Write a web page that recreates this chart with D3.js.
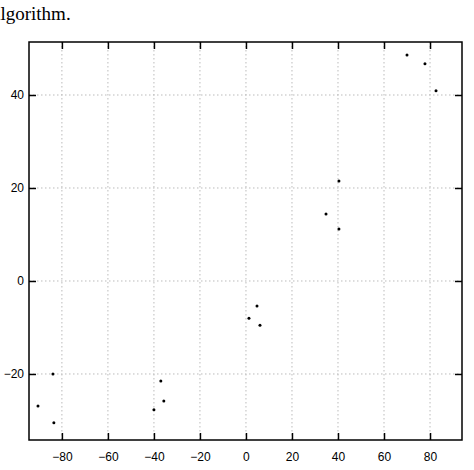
<!DOCTYPE html>
<html lang="en">
<head>
<meta charset="UTF-8">
<script src="https://d3js.org/d3.v7.min.js"></script>
<style>
  body { margin: 0; background: #fff; }
  .grid line { stroke: #bbb; stroke-dasharray: 1.5 2.5; }
  .tick text { font-family: "Liberation Sans", Arial, sans-serif; font-size: 12px; fill: #000; }
</style>
</head>
<body>
<svg id="chart" width="474" height="470"></svg>
<script>
  // Data points
  const xs = [-83.9, -90.4, -83.5, -37, -35.7, -40, 1.3, 4.8, 6.1, 34.8, 40.4, 40.4, 70, 77.8, 82.6];
  const ys = [-20, -26.9, -30.5, -21.5, -25.8, -27.7, -8, -5.4, -9.5, 14.4, 21.5, 11.2, 48.6, 46.7, 40.9];
  const xTicks = [-80, -60, -40, -20, 0, 20, 40, 60, 80];
  const yTicks = [-20, 0, 20, 40];

  const svg = d3.select("#chart");
  const pL = 29, pR = 462, pT = 42, pB = 440;

  svg.append("text")
    .attr("x", -8).attr("y", 20)
    .attr("font-family", "Liberation Serif, Times New Roman, serif")
    .attr("font-size", 19)
    .text("algorithm.");

  const x = d3.scaleLinear().domain([-94.3, 93.9]).range([pL, pR]);
  const y = d3.scaleLinear().domain([-34.2, 51.4]).range([pB, pT]);

  // grid
  const grid = svg.append("g").attr("class", "grid");
  grid.selectAll(".vx").data(xTicks).enter().append("line")
    .attr("x1", d => x(d)).attr("x2", d => x(d)).attr("y1", pT).attr("y2", pB);
  grid.selectAll(".hy").data(yTicks).enter().append("line")
    .attr("y1", d => y(d)).attr("y2", d => y(d)).attr("x1", pL).attr("x2", pR);

  // axes with inward ticks
  const tk = 7;
  svg.append("g").attr("transform", `translate(0,${pB})`)
    .call(d3.axisBottom(x).tickValues(xTicks).tickSizeInner(-tk).tickSizeOuter(0).tickPadding(12))
    .call(g => g.select(".domain").remove());
  svg.append("g").attr("transform", `translate(0,${pT})`)
    .call(d3.axisTop(x).tickValues(xTicks).tickSizeInner(-tk).tickSizeOuter(0).tickFormat(""))
    .call(g => g.select(".domain").remove());
  svg.append("g").attr("transform", `translate(${pL},0)`)
    .call(d3.axisLeft(y).tickValues(yTicks).tickSizeInner(-tk).tickSizeOuter(0).tickPadding(5))
    .call(g => g.select(".domain").remove());
  svg.append("g").attr("transform", `translate(${pR},0)`)
    .call(d3.axisRight(y).tickValues(yTicks).tickSizeInner(-tk).tickSizeOuter(0).tickFormat(""))
    .call(g => g.select(".domain").remove());
  svg.selectAll(".tick line").attr("stroke", "#000").attr("stroke-width", 1.5);

  svg.append("rect")
    .attr("x", pL).attr("y", pT).attr("width", pR - pL).attr("height", pB - pT)
    .attr("fill", "none").attr("stroke", "#000").attr("stroke-width", 1.5);

  svg.append("g").selectAll("circle").data(xs).enter().append("circle")
    .attr("cx", d => x(d)).attr("cy", (d, i) => y(ys[i]))
    .attr("r", 1.5).attr("fill", "#000");
</script>
</body>
</html>
